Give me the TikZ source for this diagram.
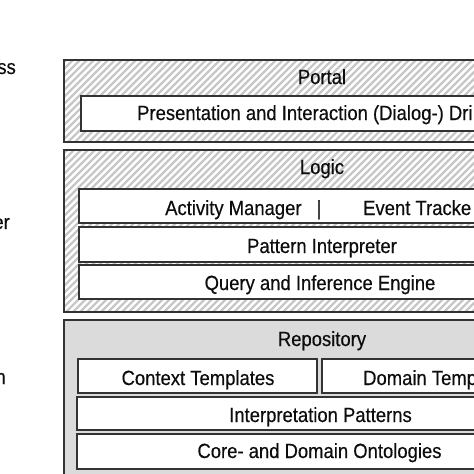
\documentclass[tikz,border=0pt]{standalone}
\usepackage{fontspec}
\setmainfont{Liberation Sans}
\newfontfamily\lblfont{Liberation Sans}[FakeStretch=0.9,FakeBold=0.4]
\begin{document}
\begin{tikzpicture}[x=1pt,y=-1pt,
  outerbox/.style={draw=black!80,line width=1.6pt},
  innerbox/.style={draw=black!80,fill=white,line width=1.4pt},
  hatchline/.style={draw=black!22,line width=2.2pt},
  lbl/.style={font=\lblfont\fontsize{20.5}{22}\selectfont,inner sep=0pt,text=black!95}]
\useasboundingbox (0,0) rectangle (474,474);
\clip (0,0) rectangle (474,474);
% outer layers
\fill[white] (64,60) rectangle (520,142);
\fill[white] (64,150) rectangle (520,312);
\begin{scope}
  \clip (64,60) rectangle (520,142) (64,150) rectangle (520,312);
  \foreach \k in {-400,-393,...,520} \draw[hatchline] (\k,330) -- (\k+300,30);
\end{scope}
\fill[black!14] (64,320) rectangle (520,490);
\draw[outerbox] (64,60) rectangle (520,142);
\draw[outerbox] (64,150) rectangle (520,312);
\draw[outerbox] (64,320) rectangle (520,490);
% inner boxes
\draw[innerbox] (81,96) rectangle (520,131);
\draw[innerbox] (79,189) rectangle (520,223);
\draw[innerbox] (79,227) rectangle (520,262);
\draw[innerbox] (79,265) rectangle (520,299);
\draw[innerbox] (78,359) rectangle (317,393);
\draw[innerbox] (322,359) rectangle (520,393);
\draw[innerbox] (77,397) rectangle (520,430);
\draw[innerbox] (77,434) rectangle (520,469);
% texts
\node[lbl,anchor=base] (portal) at (322,84) {Portal};
\node[lbl,anchor=base west] (pres) at (137,120) {Presentation and Interaction (Dialog-) Dri};
\node[lbl,anchor=base] (logic) at (322,174) {Logic};
\node[lbl,anchor=base west] (act) at (165,215) {Activity Manager};
\node[lbl,anchor=base] (bar) at (319,215) {|};
\node[lbl,anchor=base west] (evt) at (363,215) {Event Tracke};
\node[lbl,anchor=base] (pat) at (322,253) {Pattern Interpreter};
\node[lbl,anchor=base] (qry) at (320,290) {Query and Inference Engine};
\node[lbl,anchor=base] (repo) at (322,346) {Repository};
\node[lbl,anchor=base] (ctx) at (198,385) {Context Templates};
\node[lbl,anchor=base west] (dom) at (363,385) {Domain Temp};
\node[lbl,anchor=base] (ipat) at (320.5,422) {Interpretation Patterns};
\node[lbl,anchor=base] (core) at (319.5,458) {Core- and Domain Ontologies};
% left fragments
\node[lbl,anchor=base east] (l1) at (16,74) {ss};
\node[lbl,anchor=base east] (l2) at (10,229) {er};
\node[lbl,anchor=base east] (l3) at (6,384) {n};
\end{tikzpicture}
\end{document}
